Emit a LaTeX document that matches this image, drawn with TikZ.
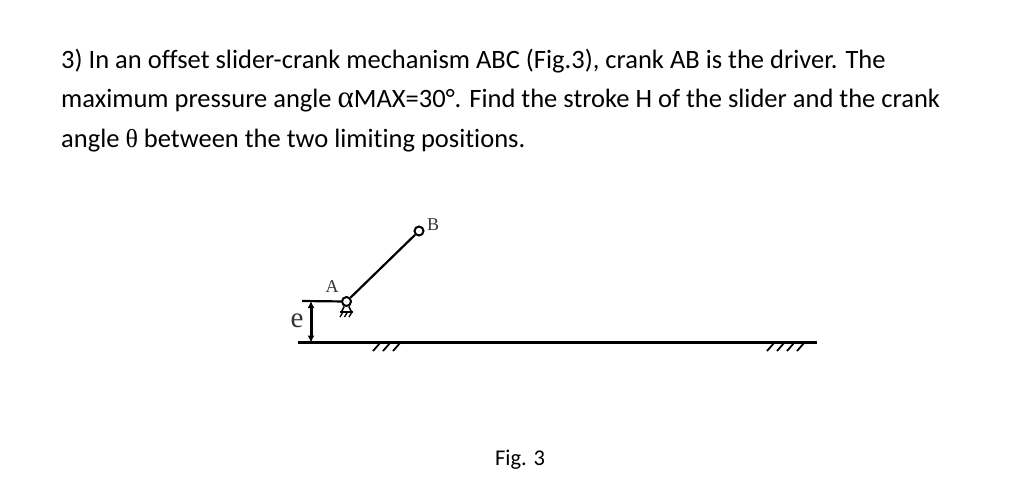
\documentclass[tikz,border=0pt]{standalone}
\usepackage{fontspec}
\usetikzlibrary{arrows.meta}
\setmainfont[Ligatures=NoCommon]{Carlito}
\newfontfamily\serifgr{Liberation Serif}
\newcommand{\gr}[2]{{\serifgr\fontsize{#1}{30}\selectfont #2}}
\begin{document}
\begin{tikzpicture}[x=1pt,y=-1pt,
    txt/.style={anchor=base west,inner sep=0pt,font=\fontsize{26.5}{30}\selectfont},
    lbl/.style={inner sep=0pt,text=black!80,font=\serifgr\fontsize{18}{20}\selectfont},
    pivot/.style={circle,draw,line width=2pt,fill=white,inner sep=0pt,minimum size=9pt},
    link/.style={line width=2.2pt},
    hatch/.style={line width=1.8pt}]
    \useasboundingbox (0,0) rectangle (1031,485);
    \node (l1) at (61,68) [txt] {3) In an offset slider-crank mechanism ABC (Fig.3), crank AB is the driver. The};
    \node (l2) at (61,107.5) [txt] {maximum pressure angle \gr{31}{α}MAX=30°. Find the stroke H of the slider and the crank};
    \node (l3) at (61,147) [txt] {angle \gr{26}{θ} between the two limiting positions.};
    \node (fig) at (520,459.5) [font=\fontsize{22.5}{26}\selectfont,inner sep=0pt] {Fig. 3};

    \coordinate (g1) at (298,342.5);
    \coordinate (g2) at (817,342.5);
    \coordinate (top) at (302,301);
    \coordinate (e1) at (311,301);
    \coordinate (e2) at (311,342.5);
    \coordinate (s1) at (340,312);
    \coordinate (s2) at (353,312);
    \coordinate (m1) at (341.5,312);
    \coordinate (m2) at (351.5,312);

    \draw[link] (g1) -- (g2);
    \draw[line width=3pt,{Latex[length=7pt,width=7pt]}-{Latex[length=7pt,width=7pt]}] (e1) -- (e2);
    \draw[hatch] (s1) -- (s2);

    % hatches of the guide
    \foreach \i in {380,390,400}{
      \draw[hatch] (\i,343) -- (\i-7,351);
    }
    \foreach \i in {774,784,794,804}{
      \draw[hatch] (\i,343) -- (\i-7,351);
    }
    % hatches of the support
    \foreach \i in {343,347.5,352}{
      \draw[line width=1.3pt] (\i,312) -- (\i-3,317);
    }

    \node (a) at (346.5,301.5) [pivot] {};
    \node (b) at (419,231) [pivot] {};
    \draw[link] (top) -- (a);
    \draw[link] (a) -- (b);
    \draw[line width=1.6pt] (a) -- (m1);
    \draw[line width=1.6pt] (a) -- (m2);

    \node (la) at (332,287) [lbl] {A};
    \node (lb) at (433,225) [lbl] {B};
    \node (le) at (297,321) [lbl,font=\serifgr\fontsize{29}{30}\selectfont] {e};
  \end{tikzpicture}
\end{document}
